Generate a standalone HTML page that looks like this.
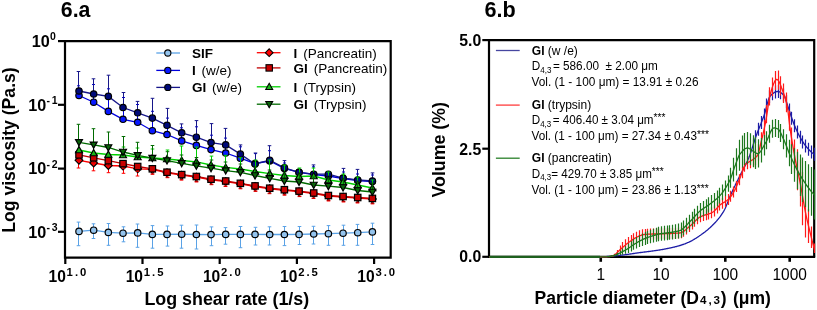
<!DOCTYPE html><html><head><meta charset="utf-8"><style>html,body{margin:0;padding:0;background:#fff;overflow:hidden}svg{display:block;will-change:transform}</style></head><body><svg width="817" height="310" viewBox="0 0 817 310"><rect width="817" height="310" fill="#fff"/><polyline points="79.00,231.40 93.67,230.20 108.34,232.40 123.01,233.20 137.68,232.90 152.35,234.40 167.02,234.40 181.69,234.20 196.36,234.50 211.03,234.60 225.70,234.40 240.37,234.40 255.04,234.40 269.71,234.50 284.38,234.50 299.05,234.40 313.72,234.00 328.39,233.70 343.06,233.20 357.73,232.70 372.40,231.90" fill="none" stroke="#5aa2e6" stroke-width="1.3"/>
<path d="M78.50 231.40V222.10M76.70 222.10H80.30M78.50 231.40V245.70M76.70 245.70H80.30M93.50 230.20V223.80M91.70 223.80H95.30M93.50 230.20V238.50M91.70 238.50H95.30M108.50 232.40V223.50M106.70 223.50H110.30M108.50 232.40V245.30M106.70 245.30H110.30M123.50 233.20V226.80M121.70 226.80H125.30M123.50 233.20V241.80M121.70 241.80H125.30M137.50 232.90V224.00M135.70 224.00H139.30M137.50 232.90V247.30M135.70 247.30H139.30M152.50 234.40V225.60M150.70 225.60H154.30M152.50 234.40V248.20M150.70 248.20H154.30M167.50 234.40V226.00M165.70 226.00H169.30M167.50 234.40V246.10M165.70 246.10H169.30M181.50 234.20V225.20M179.70 225.20H183.30M181.50 234.20V248.20M179.70 248.20H183.30M196.50 234.50V225.00M194.70 225.00H198.30M196.50 234.50V249.00M194.70 249.00H198.30M211.50 234.60V226.90M209.70 226.90H213.30M211.50 234.60V245.70M209.70 245.70H213.30M225.50 234.40V227.60M223.70 227.60H227.30M225.50 234.40V244.20M223.70 244.20H227.30M240.50 234.40V226.50M238.70 226.50H242.30M240.50 234.40V247.70M238.70 247.70H242.30M255.50 234.40V227.30M253.70 227.30H257.30M255.50 234.40V245.00M253.70 245.00H257.30M269.50 234.50V226.80M267.70 226.80H271.30M269.50 234.50V245.00M267.70 245.00H271.30M284.50 234.50V226.50M282.70 226.50H286.30M284.50 234.50V245.60M282.70 245.60H286.30M299.50 234.40V226.50M297.70 226.50H301.30M299.50 234.40V244.50M297.70 244.50H301.30M313.50 234.00V226.30M311.70 226.30H315.30M313.50 234.00V244.00M311.70 244.00H315.30M328.50 233.70V225.60M326.70 225.60H330.30M328.50 233.70V245.30M326.70 245.30H330.30M343.50 233.20V225.20M341.70 225.20H345.30M343.50 233.20V245.30M341.70 245.30H345.30M357.50 232.70V224.40M355.70 224.40H359.30M357.50 232.70V245.30M355.70 245.30H359.30M372.50 231.90V223.20M370.70 223.20H374.30M372.50 231.90V244.50M370.70 244.50H374.30" stroke="#5aa2e6" stroke-width="1.0" fill="none"/>
<circle cx="79.00" cy="231.40" r="3.20" fill="#94c4ee" stroke="#000" stroke-width="1.2"/><circle cx="93.67" cy="230.20" r="3.20" fill="#94c4ee" stroke="#000" stroke-width="1.2"/><circle cx="108.34" cy="232.40" r="3.20" fill="#94c4ee" stroke="#000" stroke-width="1.2"/><circle cx="123.01" cy="233.20" r="3.20" fill="#94c4ee" stroke="#000" stroke-width="1.2"/><circle cx="137.68" cy="232.90" r="3.20" fill="#94c4ee" stroke="#000" stroke-width="1.2"/><circle cx="152.35" cy="234.40" r="3.20" fill="#94c4ee" stroke="#000" stroke-width="1.2"/><circle cx="167.02" cy="234.40" r="3.20" fill="#94c4ee" stroke="#000" stroke-width="1.2"/><circle cx="181.69" cy="234.20" r="3.20" fill="#94c4ee" stroke="#000" stroke-width="1.2"/><circle cx="196.36" cy="234.50" r="3.20" fill="#94c4ee" stroke="#000" stroke-width="1.2"/><circle cx="211.03" cy="234.60" r="3.20" fill="#94c4ee" stroke="#000" stroke-width="1.2"/><circle cx="225.70" cy="234.40" r="3.20" fill="#94c4ee" stroke="#000" stroke-width="1.2"/><circle cx="240.37" cy="234.40" r="3.20" fill="#94c4ee" stroke="#000" stroke-width="1.2"/><circle cx="255.04" cy="234.40" r="3.20" fill="#94c4ee" stroke="#000" stroke-width="1.2"/><circle cx="269.71" cy="234.50" r="3.20" fill="#94c4ee" stroke="#000" stroke-width="1.2"/><circle cx="284.38" cy="234.50" r="3.20" fill="#94c4ee" stroke="#000" stroke-width="1.2"/><circle cx="299.05" cy="234.40" r="3.20" fill="#94c4ee" stroke="#000" stroke-width="1.2"/><circle cx="313.72" cy="234.00" r="3.20" fill="#94c4ee" stroke="#000" stroke-width="1.2"/><circle cx="328.39" cy="233.70" r="3.20" fill="#94c4ee" stroke="#000" stroke-width="1.2"/><circle cx="343.06" cy="233.20" r="3.20" fill="#94c4ee" stroke="#000" stroke-width="1.2"/><circle cx="357.73" cy="232.70" r="3.20" fill="#94c4ee" stroke="#000" stroke-width="1.2"/><circle cx="372.40" cy="231.90" r="3.20" fill="#94c4ee" stroke="#000" stroke-width="1.2"/>
<polyline points="79.00,95.50 93.67,102.20 108.34,111.40 123.01,119.30 137.68,122.30 152.35,130.70 167.02,134.50 181.69,140.90 196.36,145.40 211.03,149.60 225.70,153.00 240.37,158.20 255.04,163.50 269.71,161.00 284.38,168.40 299.05,172.30 313.72,174.50 328.39,176.00 343.06,178.50 357.73,180.50 372.40,181.50" fill="none" stroke="#0000dd" stroke-width="1.3"/>
<path d="M78.50 95.50V85.80M77.00 85.80H80.00M93.50 102.20V84.50M92.00 84.50H95.00M108.50 111.40V88.80M107.00 88.80H110.00M123.50 119.30V97.50M122.00 97.50H125.00M137.50 122.30V104.50M136.00 104.50H139.00M152.50 130.70V111.30M151.00 111.30H154.00M167.50 134.50V118.10M166.00 118.10H169.00M181.50 140.90V127.80M180.00 127.80H183.00M196.50 145.40V126.80M195.00 126.80H198.00M211.50 149.60V135.20M210.00 135.20H213.00M225.50 153.00V138.10M224.00 138.10H227.00M240.50 158.20V146.80M239.00 146.80H242.00M255.50 163.50V153.60M254.00 153.60H257.00M269.50 161.00V150.70M268.00 150.70H271.00M284.50 168.40V163.00M283.00 163.00H286.00M299.50 172.30V169.70M298.00 169.70H301.00M313.50 174.50V166.80M312.00 166.80H315.00M328.50 176.00V171.70M327.00 171.70H330.00M343.50 178.50V172.00M342.00 172.00H345.00M357.50 180.50V174.00M356.00 174.00H359.00M372.50 181.50V175.00M371.00 175.00H374.00" stroke="#0000dd" stroke-width="1.0" fill="none"/>
<circle cx="79.00" cy="95.50" r="3.20" fill="#0818ff" stroke="#000" stroke-width="1.2"/><circle cx="93.67" cy="102.20" r="3.20" fill="#0818ff" stroke="#000" stroke-width="1.2"/><circle cx="108.34" cy="111.40" r="3.20" fill="#0818ff" stroke="#000" stroke-width="1.2"/><circle cx="123.01" cy="119.30" r="3.20" fill="#0818ff" stroke="#000" stroke-width="1.2"/><circle cx="137.68" cy="122.30" r="3.20" fill="#0818ff" stroke="#000" stroke-width="1.2"/><circle cx="152.35" cy="130.70" r="3.20" fill="#0818ff" stroke="#000" stroke-width="1.2"/><circle cx="167.02" cy="134.50" r="3.20" fill="#0818ff" stroke="#000" stroke-width="1.2"/><circle cx="181.69" cy="140.90" r="3.20" fill="#0818ff" stroke="#000" stroke-width="1.2"/><circle cx="196.36" cy="145.40" r="3.20" fill="#0818ff" stroke="#000" stroke-width="1.2"/><circle cx="211.03" cy="149.60" r="3.20" fill="#0818ff" stroke="#000" stroke-width="1.2"/><circle cx="225.70" cy="153.00" r="3.20" fill="#0818ff" stroke="#000" stroke-width="1.2"/><circle cx="240.37" cy="158.20" r="3.20" fill="#0818ff" stroke="#000" stroke-width="1.2"/><circle cx="255.04" cy="163.50" r="3.20" fill="#0818ff" stroke="#000" stroke-width="1.2"/><circle cx="269.71" cy="161.00" r="3.20" fill="#0818ff" stroke="#000" stroke-width="1.2"/><circle cx="284.38" cy="168.40" r="3.20" fill="#0818ff" stroke="#000" stroke-width="1.2"/><circle cx="299.05" cy="172.30" r="3.20" fill="#0818ff" stroke="#000" stroke-width="1.2"/><circle cx="313.72" cy="174.50" r="3.20" fill="#0818ff" stroke="#000" stroke-width="1.2"/><circle cx="328.39" cy="176.00" r="3.20" fill="#0818ff" stroke="#000" stroke-width="1.2"/><circle cx="343.06" cy="178.50" r="3.20" fill="#0818ff" stroke="#000" stroke-width="1.2"/><circle cx="357.73" cy="180.50" r="3.20" fill="#0818ff" stroke="#000" stroke-width="1.2"/><circle cx="372.40" cy="181.50" r="3.20" fill="#0818ff" stroke="#000" stroke-width="1.2"/>
<polyline points="79.00,91.00 93.67,94.00 108.34,96.40 123.01,107.50 137.68,112.80 152.35,118.10 167.02,125.30 181.69,132.80 196.36,137.20 211.03,142.60 225.70,144.90 240.37,154.10 255.04,164.00 269.71,160.20 284.38,167.80 299.05,172.40 313.72,174.20 328.39,174.20 343.06,178.10 357.73,180.00 372.40,181.00" fill="none" stroke="#16168a" stroke-width="1.3"/>
<path d="M78.50 91.00V71.50M76.70 71.50H80.30M93.50 94.00V78.80M91.70 78.80H95.30M108.50 96.40V75.20M106.70 75.20H110.30M123.50 107.50V92.50M121.70 92.50H125.30M137.50 112.80V101.40M135.70 101.40H139.30M152.50 118.10V98.30M150.70 98.30H154.30M167.50 125.30V108.40M165.70 108.40H169.30M181.50 132.80V123.90M179.70 123.90H183.30M196.50 137.20V120.60M194.70 120.60H198.30M211.50 142.60V123.60M209.70 123.60H213.30M225.50 144.90V128.40M223.70 128.40H227.30M240.50 154.10V144.90M238.70 144.90H242.30M255.50 164.00V153.00M253.70 153.00H257.30M269.50 160.20V145.70M267.70 145.70H271.30M284.50 167.80V160.60M282.70 160.60H286.30M299.50 172.40V171.00M297.70 171.00H301.30M313.50 174.20V164.90M311.70 164.90H315.30M328.50 174.20V173.00M326.70 173.00H330.30M343.50 178.10V168.40M341.70 168.40H345.30M357.50 180.00V169.40M355.70 169.40H359.30M372.50 181.00V172.90M370.70 172.90H374.30" stroke="#16168a" stroke-width="1.0" fill="none"/>
<circle cx="79.00" cy="91.00" r="3.20" fill="#000a7a" stroke="#000" stroke-width="1.2"/><circle cx="93.67" cy="94.00" r="3.20" fill="#000a7a" stroke="#000" stroke-width="1.2"/><circle cx="108.34" cy="96.40" r="3.20" fill="#000a7a" stroke="#000" stroke-width="1.2"/><circle cx="123.01" cy="107.50" r="3.20" fill="#000a7a" stroke="#000" stroke-width="1.2"/><circle cx="137.68" cy="112.80" r="3.20" fill="#000a7a" stroke="#000" stroke-width="1.2"/><circle cx="152.35" cy="118.10" r="3.20" fill="#000a7a" stroke="#000" stroke-width="1.2"/><circle cx="167.02" cy="125.30" r="3.20" fill="#000a7a" stroke="#000" stroke-width="1.2"/><circle cx="181.69" cy="132.80" r="3.20" fill="#000a7a" stroke="#000" stroke-width="1.2"/><circle cx="196.36" cy="137.20" r="3.20" fill="#000a7a" stroke="#000" stroke-width="1.2"/><circle cx="211.03" cy="142.60" r="3.20" fill="#000a7a" stroke="#000" stroke-width="1.2"/><circle cx="225.70" cy="144.90" r="3.20" fill="#000a7a" stroke="#000" stroke-width="1.2"/><circle cx="240.37" cy="154.10" r="3.20" fill="#000a7a" stroke="#000" stroke-width="1.2"/><circle cx="255.04" cy="164.00" r="3.20" fill="#000a7a" stroke="#000" stroke-width="1.2"/><circle cx="269.71" cy="160.20" r="3.20" fill="#000a7a" stroke="#000" stroke-width="1.2"/><circle cx="284.38" cy="167.80" r="3.20" fill="#000a7a" stroke="#000" stroke-width="1.2"/><circle cx="299.05" cy="172.40" r="3.20" fill="#000a7a" stroke="#000" stroke-width="1.2"/><circle cx="313.72" cy="174.20" r="3.20" fill="#000a7a" stroke="#000" stroke-width="1.2"/><circle cx="328.39" cy="174.20" r="3.20" fill="#000a7a" stroke="#000" stroke-width="1.2"/><circle cx="343.06" cy="178.10" r="3.20" fill="#000a7a" stroke="#000" stroke-width="1.2"/><circle cx="357.73" cy="180.00" r="3.20" fill="#000a7a" stroke="#000" stroke-width="1.2"/><circle cx="372.40" cy="181.00" r="3.20" fill="#000a7a" stroke="#000" stroke-width="1.2"/>
<polyline points="79.00,160.30 93.67,163.00 108.34,165.50 123.01,166.00 137.68,168.80 152.35,169.40 167.02,172.80 181.69,175.20 196.36,177.10 211.03,179.80 225.70,181.60 240.37,183.90 255.04,186.50 269.71,188.80 284.38,190.30 299.05,191.70 313.72,193.60 328.39,196.10 343.06,197.10 357.73,198.10 372.40,199.00" fill="none" stroke="#ff0000" stroke-width="1.3"/>
<path d="M78.50 160.30V168.00M76.70 168.00H80.30M93.50 163.00V170.80M91.70 170.80H95.30M108.50 165.50V172.70M106.70 172.70H110.30M123.50 166.00V173.30M121.70 173.30H125.30M137.50 168.80V176.00M135.70 176.00H139.30M152.50 169.40V174.30M150.70 174.30H154.30M167.50 172.80V177.70M165.70 177.70H169.30M181.50 175.20V180.10M179.70 180.10H183.30M196.50 177.10V182.00M194.70 182.00H198.30M211.50 179.80V184.70M209.70 184.70H213.30M225.50 181.60V186.50M223.70 186.50H227.30M240.50 183.90V188.80M238.70 188.80H242.30M255.50 186.50V191.40M253.70 191.40H257.30M269.50 188.80V193.70M267.70 193.70H271.30M284.50 190.30V195.20M282.70 195.20H286.30M299.50 191.70V196.60M297.70 196.60H301.30M313.50 193.60V198.50M311.70 198.50H315.30M328.50 196.10V201.00M326.70 201.00H330.30M343.50 197.10V202.00M341.70 202.00H345.30M357.50 198.10V203.00M355.70 203.00H359.30M372.50 199.00V203.90M370.70 203.90H374.30" stroke="#ff0000" stroke-width="1.0" fill="none"/>
<path d="M79.00 156.46L82.84 160.30L79.00 164.14L75.16 160.30Z" fill="#ff0000" stroke="#000" stroke-width="1.2"/><path d="M93.67 159.16L97.51 163.00L93.67 166.84L89.83 163.00Z" fill="#ff0000" stroke="#000" stroke-width="1.2"/><path d="M108.34 161.66L112.18 165.50L108.34 169.34L104.50 165.50Z" fill="#ff0000" stroke="#000" stroke-width="1.2"/><path d="M123.01 162.16L126.85 166.00L123.01 169.84L119.17 166.00Z" fill="#ff0000" stroke="#000" stroke-width="1.2"/><path d="M137.68 164.96L141.52 168.80L137.68 172.64L133.84 168.80Z" fill="#ff0000" stroke="#000" stroke-width="1.2"/><path d="M152.35 165.56L156.19 169.40L152.35 173.24L148.51 169.40Z" fill="#ff0000" stroke="#000" stroke-width="1.2"/><path d="M167.02 168.96L170.86 172.80L167.02 176.64L163.18 172.80Z" fill="#ff0000" stroke="#000" stroke-width="1.2"/><path d="M181.69 171.36L185.53 175.20L181.69 179.04L177.85 175.20Z" fill="#ff0000" stroke="#000" stroke-width="1.2"/><path d="M196.36 173.26L200.20 177.10L196.36 180.94L192.52 177.10Z" fill="#ff0000" stroke="#000" stroke-width="1.2"/><path d="M211.03 175.96L214.87 179.80L211.03 183.64L207.19 179.80Z" fill="#ff0000" stroke="#000" stroke-width="1.2"/><path d="M225.70 177.76L229.54 181.60L225.70 185.44L221.86 181.60Z" fill="#ff0000" stroke="#000" stroke-width="1.2"/><path d="M240.37 180.06L244.21 183.90L240.37 187.74L236.53 183.90Z" fill="#ff0000" stroke="#000" stroke-width="1.2"/><path d="M255.04 182.66L258.88 186.50L255.04 190.34L251.20 186.50Z" fill="#ff0000" stroke="#000" stroke-width="1.2"/><path d="M269.71 184.96L273.55 188.80L269.71 192.64L265.87 188.80Z" fill="#ff0000" stroke="#000" stroke-width="1.2"/><path d="M284.38 186.46L288.22 190.30L284.38 194.14L280.54 190.30Z" fill="#ff0000" stroke="#000" stroke-width="1.2"/><path d="M299.05 187.86L302.89 191.70L299.05 195.54L295.21 191.70Z" fill="#ff0000" stroke="#000" stroke-width="1.2"/><path d="M313.72 189.76L317.56 193.60L313.72 197.44L309.88 193.60Z" fill="#ff0000" stroke="#000" stroke-width="1.2"/><path d="M328.39 192.26L332.23 196.10L328.39 199.94L324.55 196.10Z" fill="#ff0000" stroke="#000" stroke-width="1.2"/><path d="M343.06 193.26L346.90 197.10L343.06 200.94L339.22 197.10Z" fill="#ff0000" stroke="#000" stroke-width="1.2"/><path d="M357.73 194.26L361.57 198.10L357.73 201.94L353.89 198.10Z" fill="#ff0000" stroke="#000" stroke-width="1.2"/><path d="M372.40 195.16L376.24 199.00L372.40 202.84L368.56 199.00Z" fill="#ff0000" stroke="#000" stroke-width="1.2"/>
<polyline points="79.00,154.90 93.67,157.80 108.34,160.70 123.01,163.60 137.68,166.50 152.35,168.80 167.02,172.20 181.69,174.60 196.36,176.50 211.03,179.20 225.70,181.00 240.37,183.30 255.04,185.90 269.71,188.20 284.38,189.70 299.05,191.10 313.72,193.00 328.39,195.50 343.06,196.50 357.73,197.50 372.40,198.40" fill="none" stroke="#c00000" stroke-width="1.3"/>
<path d="M78.50 154.90V159.90M76.70 159.90H80.30M93.50 157.80V162.80M91.70 162.80H95.30M108.50 160.70V165.70M106.70 165.70H110.30M123.50 163.60V168.60M121.70 168.60H125.30M137.50 166.50V171.50M135.70 171.50H139.30M152.50 168.80V173.80M150.70 173.80H154.30M167.50 172.20V177.20M165.70 177.20H169.30M181.50 174.60V179.60M179.70 179.60H183.30M196.50 176.50V181.50M194.70 181.50H198.30M211.50 179.20V184.20M209.70 184.20H213.30M225.50 181.00V186.00M223.70 186.00H227.30M240.50 183.30V188.30M238.70 188.30H242.30M255.50 185.90V190.90M253.70 190.90H257.30M269.50 188.20V193.20M267.70 193.20H271.30M284.50 189.70V194.70M282.70 194.70H286.30M299.50 191.10V196.10M297.70 196.10H301.30M313.50 193.00V198.00M311.70 198.00H315.30M328.50 195.50V200.50M326.70 200.50H330.30M343.50 196.50V201.50M341.70 201.50H345.30M357.50 197.50V202.50M355.70 202.50H359.30M372.50 198.40V203.40M370.70 203.40H374.30" stroke="#c00000" stroke-width="1.0" fill="none"/>
<rect x="75.80" y="151.70" width="6.40" height="6.40" fill="#c80000" stroke="#000" stroke-width="1.2"/><rect x="90.47" y="154.60" width="6.40" height="6.40" fill="#c80000" stroke="#000" stroke-width="1.2"/><rect x="105.14" y="157.50" width="6.40" height="6.40" fill="#c80000" stroke="#000" stroke-width="1.2"/><rect x="119.81" y="160.40" width="6.40" height="6.40" fill="#c80000" stroke="#000" stroke-width="1.2"/><rect x="134.48" y="163.30" width="6.40" height="6.40" fill="#c80000" stroke="#000" stroke-width="1.2"/><rect x="149.15" y="165.60" width="6.40" height="6.40" fill="#c80000" stroke="#000" stroke-width="1.2"/><rect x="163.82" y="169.00" width="6.40" height="6.40" fill="#c80000" stroke="#000" stroke-width="1.2"/><rect x="178.49" y="171.40" width="6.40" height="6.40" fill="#c80000" stroke="#000" stroke-width="1.2"/><rect x="193.16" y="173.30" width="6.40" height="6.40" fill="#c80000" stroke="#000" stroke-width="1.2"/><rect x="207.83" y="176.00" width="6.40" height="6.40" fill="#c80000" stroke="#000" stroke-width="1.2"/><rect x="222.50" y="177.80" width="6.40" height="6.40" fill="#c80000" stroke="#000" stroke-width="1.2"/><rect x="237.17" y="180.10" width="6.40" height="6.40" fill="#c80000" stroke="#000" stroke-width="1.2"/><rect x="251.84" y="182.70" width="6.40" height="6.40" fill="#c80000" stroke="#000" stroke-width="1.2"/><rect x="266.51" y="185.00" width="6.40" height="6.40" fill="#c80000" stroke="#000" stroke-width="1.2"/><rect x="281.18" y="186.50" width="6.40" height="6.40" fill="#c80000" stroke="#000" stroke-width="1.2"/><rect x="295.85" y="187.90" width="6.40" height="6.40" fill="#c80000" stroke="#000" stroke-width="1.2"/><rect x="310.52" y="189.80" width="6.40" height="6.40" fill="#c80000" stroke="#000" stroke-width="1.2"/><rect x="325.19" y="192.30" width="6.40" height="6.40" fill="#c80000" stroke="#000" stroke-width="1.2"/><rect x="339.86" y="193.30" width="6.40" height="6.40" fill="#c80000" stroke="#000" stroke-width="1.2"/><rect x="354.53" y="194.30" width="6.40" height="6.40" fill="#c80000" stroke="#000" stroke-width="1.2"/><rect x="369.20" y="195.20" width="6.40" height="6.40" fill="#c80000" stroke="#000" stroke-width="1.2"/>
<polyline points="79.00,150.00 93.67,153.00 108.34,154.50 123.01,155.00 137.68,157.00 152.35,158.00 167.02,159.00 181.69,160.50 196.36,161.80 211.03,165.00 225.70,167.40 240.37,169.00 255.04,171.50 269.71,173.60 284.38,175.50 299.05,176.50 313.72,176.00 328.39,180.00 343.06,182.00 357.73,185.00 372.40,188.00" fill="none" stroke="#00d000" stroke-width="1.3"/>
<path d="M78.50 150.00V141.00M76.70 141.00H80.30M93.50 153.00V144.00M91.70 144.00H95.30M108.50 154.50V146.00M106.70 146.00H110.30M123.50 155.00V147.00M121.70 147.00H125.30M137.50 157.00V148.00M135.70 148.00H139.30M152.50 158.00V149.00M150.70 149.00H154.30M167.50 159.00V150.00M165.70 150.00H169.30M181.50 160.50V146.00M179.70 146.00H183.30M196.50 161.80V147.00M194.70 147.00H198.30M211.50 165.00V156.10M209.70 156.10H213.30M225.50 167.40V155.30M223.70 155.30H227.30M240.50 169.00V157.70M238.70 157.70H242.30M255.50 171.50V160.00M253.70 160.00H257.30M269.50 173.60V160.00M267.70 160.00H271.30M284.50 175.50V165.00M282.70 165.00H286.30M299.50 176.50V168.00M297.70 168.00H301.30M313.50 176.00V168.00M311.70 168.00H315.30M328.50 180.00V172.00M326.70 172.00H330.30M343.50 182.00V174.00M341.70 174.00H345.30M357.50 185.00V177.00M355.70 177.00H359.30M372.50 188.00V180.00M370.70 180.00H374.30" stroke="#00d000" stroke-width="1.0" fill="none"/>
<path d="M79.00 146.54L82.46 152.76L75.54 152.76Z" fill="#18b418" stroke="#000" stroke-width="1.2"/><path d="M93.67 149.54L97.13 155.76L90.21 155.76Z" fill="#18b418" stroke="#000" stroke-width="1.2"/><path d="M108.34 151.04L111.80 157.26L104.88 157.26Z" fill="#18b418" stroke="#000" stroke-width="1.2"/><path d="M123.01 151.54L126.47 157.76L119.55 157.76Z" fill="#18b418" stroke="#000" stroke-width="1.2"/><path d="M137.68 153.54L141.14 159.76L134.22 159.76Z" fill="#18b418" stroke="#000" stroke-width="1.2"/><path d="M152.35 154.54L155.81 160.76L148.89 160.76Z" fill="#18b418" stroke="#000" stroke-width="1.2"/><path d="M167.02 155.54L170.48 161.76L163.56 161.76Z" fill="#18b418" stroke="#000" stroke-width="1.2"/><path d="M181.69 157.04L185.15 163.26L178.23 163.26Z" fill="#18b418" stroke="#000" stroke-width="1.2"/><path d="M196.36 158.34L199.82 164.56L192.90 164.56Z" fill="#18b418" stroke="#000" stroke-width="1.2"/><path d="M211.03 161.54L214.49 167.76L207.57 167.76Z" fill="#18b418" stroke="#000" stroke-width="1.2"/><path d="M225.70 163.94L229.16 170.16L222.24 170.16Z" fill="#18b418" stroke="#000" stroke-width="1.2"/><path d="M240.37 165.54L243.83 171.76L236.91 171.76Z" fill="#18b418" stroke="#000" stroke-width="1.2"/><path d="M255.04 168.04L258.50 174.26L251.58 174.26Z" fill="#18b418" stroke="#000" stroke-width="1.2"/><path d="M269.71 170.14L273.17 176.36L266.25 176.36Z" fill="#18b418" stroke="#000" stroke-width="1.2"/><path d="M284.38 172.04L287.84 178.26L280.92 178.26Z" fill="#18b418" stroke="#000" stroke-width="1.2"/><path d="M299.05 173.04L302.51 179.26L295.59 179.26Z" fill="#18b418" stroke="#000" stroke-width="1.2"/><path d="M313.72 172.54L317.18 178.76L310.26 178.76Z" fill="#18b418" stroke="#000" stroke-width="1.2"/><path d="M328.39 176.54L331.85 182.76L324.93 182.76Z" fill="#18b418" stroke="#000" stroke-width="1.2"/><path d="M343.06 178.54L346.52 184.76L339.60 184.76Z" fill="#18b418" stroke="#000" stroke-width="1.2"/><path d="M357.73 181.54L361.19 187.76L354.27 187.76Z" fill="#18b418" stroke="#000" stroke-width="1.2"/><path d="M372.40 184.54L375.86 190.76L368.94 190.76Z" fill="#18b418" stroke="#000" stroke-width="1.2"/>
<polyline points="79.00,142.30 93.67,144.80 108.34,147.50 123.01,152.00 137.68,155.30 152.35,158.10 167.02,160.60 181.69,163.30 196.36,165.80 211.03,168.20 225.70,170.60 240.37,172.30 255.04,175.50 269.71,178.40 284.38,181.00 299.05,182.00 313.72,185.00 328.39,186.20 343.06,187.50 357.73,190.50 372.40,192.00" fill="none" stroke="#006a00" stroke-width="1.3"/>
<path d="M78.50 142.30V124.30M76.70 124.30H80.30M93.50 144.80V128.70M91.70 128.70H95.30M108.50 147.50V132.00M106.70 132.00H110.30M123.50 152.00V136.50M121.70 136.50H125.30M137.50 155.30V142.30M135.70 142.30H139.30M152.50 158.10V145.50M150.70 145.50H154.30M167.50 160.60V151.70M165.70 151.70H169.30M181.50 163.30V155.00M179.70 155.00H183.30M196.50 165.80V157.50M194.70 157.50H198.30M211.50 168.20V160.00M209.70 160.00H213.30M225.50 170.60V162.00M223.70 162.00H227.30M240.50 172.30V164.00M238.70 164.00H242.30M255.50 175.50V167.00M253.70 167.00H257.30M269.50 178.40V170.00M267.70 170.00H271.30M284.50 181.00V173.00M282.70 173.00H286.30M299.50 182.00V174.00M297.70 174.00H301.30M313.50 185.00V177.00M311.70 177.00H315.30M328.50 186.20V178.00M326.70 178.00H330.30M343.50 187.50V179.00M341.70 179.00H345.30M357.50 190.50V182.00M355.70 182.00H359.30M372.50 192.00V183.00M370.70 183.00H374.30" stroke="#006a00" stroke-width="1.0" fill="none"/>
<path d="M79.00 145.76L82.46 139.54L75.54 139.54Z" fill="#0a640a" stroke="#000" stroke-width="1.2"/><path d="M93.67 148.26L97.13 142.04L90.21 142.04Z" fill="#0a640a" stroke="#000" stroke-width="1.2"/><path d="M108.34 150.96L111.80 144.74L104.88 144.74Z" fill="#0a640a" stroke="#000" stroke-width="1.2"/><path d="M123.01 155.46L126.47 149.24L119.55 149.24Z" fill="#0a640a" stroke="#000" stroke-width="1.2"/><path d="M137.68 158.76L141.14 152.54L134.22 152.54Z" fill="#0a640a" stroke="#000" stroke-width="1.2"/><path d="M152.35 161.56L155.81 155.34L148.89 155.34Z" fill="#0a640a" stroke="#000" stroke-width="1.2"/><path d="M167.02 164.06L170.48 157.84L163.56 157.84Z" fill="#0a640a" stroke="#000" stroke-width="1.2"/><path d="M181.69 166.76L185.15 160.54L178.23 160.54Z" fill="#0a640a" stroke="#000" stroke-width="1.2"/><path d="M196.36 169.26L199.82 163.04L192.90 163.04Z" fill="#0a640a" stroke="#000" stroke-width="1.2"/><path d="M211.03 171.66L214.49 165.44L207.57 165.44Z" fill="#0a640a" stroke="#000" stroke-width="1.2"/><path d="M225.70 174.06L229.16 167.84L222.24 167.84Z" fill="#0a640a" stroke="#000" stroke-width="1.2"/><path d="M240.37 175.76L243.83 169.54L236.91 169.54Z" fill="#0a640a" stroke="#000" stroke-width="1.2"/><path d="M255.04 178.96L258.50 172.74L251.58 172.74Z" fill="#0a640a" stroke="#000" stroke-width="1.2"/><path d="M269.71 181.86L273.17 175.64L266.25 175.64Z" fill="#0a640a" stroke="#000" stroke-width="1.2"/><path d="M284.38 184.46L287.84 178.24L280.92 178.24Z" fill="#0a640a" stroke="#000" stroke-width="1.2"/><path d="M299.05 185.46L302.51 179.24L295.59 179.24Z" fill="#0a640a" stroke="#000" stroke-width="1.2"/><path d="M313.72 188.46L317.18 182.24L310.26 182.24Z" fill="#0a640a" stroke="#000" stroke-width="1.2"/><path d="M328.39 189.66L331.85 183.44L324.93 183.44Z" fill="#0a640a" stroke="#000" stroke-width="1.2"/><path d="M343.06 190.96L346.52 184.74L339.60 184.74Z" fill="#0a640a" stroke="#000" stroke-width="1.2"/><path d="M357.73 193.96L361.19 187.74L354.27 187.74Z" fill="#0a640a" stroke="#000" stroke-width="1.2"/><path d="M372.40 195.46L375.86 189.24L368.94 189.24Z" fill="#0a640a" stroke="#000" stroke-width="1.2"/>
<path d="M65 41.1H390.7V257.6H65Z" fill="none" stroke="#000" stroke-width="2.2"/>
<path d="M58 41.1H65" stroke="#000" stroke-width="2.2"/>
<path d="M58 104.8H65" stroke="#000" stroke-width="2.2"/>
<path d="M58 168.6H65" stroke="#000" stroke-width="2.2"/>
<path d="M58 231.8H65" stroke="#000" stroke-width="2.2"/>
<path d="M65.30 257.6V264" stroke="#000" stroke-width="2.2"/>
<path d="M142.50 257.6V264" stroke="#000" stroke-width="2.2"/>
<path d="M219.70 257.6V264" stroke="#000" stroke-width="2.2"/>
<path d="M296.90 257.6V264" stroke="#000" stroke-width="2.2"/>
<path d="M374.10 257.6V264" stroke="#000" stroke-width="2.2"/>
<text transform="translate(31.7 46.80) scale(1 1.06)" font-family="Liberation Sans, sans-serif" font-size="16.2" font-weight="bold">10</text>
<text x="50.0" y="40.10" font-family="Liberation Sans, sans-serif" font-size="10.5" font-weight="bold" letter-spacing="0">0</text>
<text transform="translate(28.3 110.50) scale(1 1.06)" font-family="Liberation Sans, sans-serif" font-size="16.2" font-weight="bold">10</text>
<text x="46.6" y="103.80" font-family="Liberation Sans, sans-serif" font-size="10.5" font-weight="bold" letter-spacing="1.6">-1</text>
<text transform="translate(28.3 174.30) scale(1 1.06)" font-family="Liberation Sans, sans-serif" font-size="16.2" font-weight="bold">10</text>
<text x="46.6" y="167.60" font-family="Liberation Sans, sans-serif" font-size="10.5" font-weight="bold" letter-spacing="1.6">-2</text>
<text transform="translate(28.3 237.50) scale(1 1.06)" font-family="Liberation Sans, sans-serif" font-size="16.2" font-weight="bold">10</text>
<text x="46.6" y="230.80" font-family="Liberation Sans, sans-serif" font-size="10.5" font-weight="bold" letter-spacing="1.6">-3</text>
<text transform="translate(48.50 281.7) scale(1 1.0)" font-family="Liberation Sans, sans-serif" font-size="15.6" font-weight="bold">10</text>
<text x="66.60" y="275.6" font-family="Liberation Sans, sans-serif" font-size="11.3" font-weight="bold" letter-spacing="2">1.0</text>
<text transform="translate(125.70 281.7) scale(1 1.0)" font-family="Liberation Sans, sans-serif" font-size="15.6" font-weight="bold">10</text>
<text x="143.80" y="275.6" font-family="Liberation Sans, sans-serif" font-size="11.3" font-weight="bold" letter-spacing="2">1.5</text>
<text transform="translate(202.90 281.7) scale(1 1.0)" font-family="Liberation Sans, sans-serif" font-size="15.6" font-weight="bold">10</text>
<text x="221.00" y="275.6" font-family="Liberation Sans, sans-serif" font-size="11.3" font-weight="bold" letter-spacing="2">2.0</text>
<text transform="translate(280.10 281.7) scale(1 1.0)" font-family="Liberation Sans, sans-serif" font-size="15.6" font-weight="bold">10</text>
<text x="298.20" y="275.6" font-family="Liberation Sans, sans-serif" font-size="11.3" font-weight="bold" letter-spacing="2">2.5</text>
<text transform="translate(357.30 281.7) scale(1 1.0)" font-family="Liberation Sans, sans-serif" font-size="15.6" font-weight="bold">10</text>
<text x="375.40" y="275.6" font-family="Liberation Sans, sans-serif" font-size="11.3" font-weight="bold" letter-spacing="2">3.0</text>
<text x="60.8" y="16.8" font-family="Liberation Sans, sans-serif" font-size="22.5" font-weight="bold" textLength="29.6" lengthAdjust="spacingAndGlyphs">6.a</text>
<text x="144.4" y="305.2" font-family="Liberation Sans, sans-serif" font-size="18" font-weight="bold" textLength="164.8" lengthAdjust="spacingAndGlyphs">Log shear rate (1/s)</text>
<text transform="translate(14.5 232.8) rotate(-90)" font-family="Liberation Sans, sans-serif" font-size="17.5" font-weight="bold" textLength="165.5" lengthAdjust="spacingAndGlyphs">Log viscosity (Pa.s)</text>
<path d="M156.3 53H180" stroke="#5aa2e6" stroke-width="1.3"/>
<circle cx="167.80" cy="53.00" r="3.10" fill="#94c4ee" stroke="#000" stroke-width="1.1"/>
<text x="192" y="57.8" font-family="Liberation Sans, sans-serif" font-size="13.5"><tspan font-weight="bold">SIF</tspan><tspan dx="0"></tspan></text>
<path d="M156.3 70.4H180" stroke="#0000dd" stroke-width="1.3"/>
<circle cx="167.80" cy="70.40" r="3.10" fill="#0818ff" stroke="#000" stroke-width="1.1"/>
<text x="192" y="75.2" font-family="Liberation Sans, sans-serif" font-size="13.5"><tspan font-weight="bold">I</tspan><tspan dx="2"> (w/e)</tspan></text>
<path d="M156.3 87.4H180" stroke="#16168a" stroke-width="1.3"/>
<circle cx="167.80" cy="87.40" r="3.10" fill="#000a7a" stroke="#000" stroke-width="1.1"/>
<text x="192" y="92.2" font-family="Liberation Sans, sans-serif" font-size="13.5"><tspan font-weight="bold">GI</tspan><tspan dx="2"> (w/e)</tspan></text>
<path d="M256.8 52.7H280.5" stroke="#ff0000" stroke-width="1.3"/>
<path d="M269.20 48.86L273.04 52.70L269.20 56.54L265.36 52.70Z" fill="#ff0000" stroke="#000" stroke-width="1.1"/>
<text x="293.5" y="57.5" font-family="Liberation Sans, sans-serif" font-size="13.5"><tspan font-weight="bold">I</tspan><tspan dx="2.2"> (Pancreatin)</tspan></text>
<path d="M256.8 67.9H280.5" stroke="#c00000" stroke-width="1.3"/>
<rect x="266.00" y="64.70" width="6.40" height="6.40" fill="#c80000" stroke="#000" stroke-width="1.1"/>
<text x="293.5" y="72.7" font-family="Liberation Sans, sans-serif" font-size="13.5"><tspan font-weight="bold">GI</tspan><tspan dx="2.2"> (Pancreatin)</tspan></text>
<path d="M256.8 86.8H280.5" stroke="#00d000" stroke-width="1.3"/>
<path d="M269.20 83.34L272.66 89.56L265.74 89.56Z" fill="#18b418" stroke="#000" stroke-width="1.1"/>
<text x="293.5" y="91.6" font-family="Liberation Sans, sans-serif" font-size="13.5"><tspan font-weight="bold">I</tspan><tspan dx="2.2"> (Trypsin)</tspan></text>
<path d="M256.8 104.2H280.5" stroke="#006a00" stroke-width="1.3"/>
<path d="M269.20 107.66L272.66 101.44L265.74 101.44Z" fill="#0a640a" stroke="#000" stroke-width="1.1"/>
<text x="293.5" y="109.0" font-family="Liberation Sans, sans-serif" font-size="13.5"><tspan font-weight="bold">GI</tspan><tspan dx="2.2"> (Trypsin)</tspan></text>
<path d="M489 40.1H814.2V256.8" fill="none" stroke="#000" stroke-width="2.2"/>
<path d="M489 39.0V256.8H815.2" fill="none" stroke="#000" stroke-width="2.2"/>
<path d="M482.3 40.1H489" stroke="#000" stroke-width="2.2"/>
<path d="M482.3 148.7H489" stroke="#000" stroke-width="2.2"/>
<path d="M482.3 256.8H489" stroke="#000" stroke-width="2.2"/>
<path d="M600.75 256.8V261.8" stroke="#000" stroke-width="2.6"/>
<path d="M661.0 256.8V261.8" stroke="#000" stroke-width="2.6"/>
<path d="M725.3 256.8V261.8" stroke="#000" stroke-width="2.6"/>
<path d="M789.7 256.8V261.8" stroke="#000" stroke-width="2.6"/>
<polyline points="489.0,256.8 489.5,256.8 490.0,256.8 490.5,256.8 491.0,256.8 491.5,256.8 492.0,256.8 492.5,256.8 493.0,256.8 493.5,256.8 494.0,256.8 494.5,256.8 495.0,256.8 495.5,256.8 496.0,256.8 496.5,256.8 497.0,256.8 497.5,256.8 498.0,256.8 498.5,256.8 499.0,256.8 499.5,256.8 500.0,256.8 500.5,256.8 501.0,256.8 501.5,256.8 502.0,256.8 502.5,256.8 503.0,256.8 503.5,256.8 504.0,256.8 504.5,256.8 505.0,256.8 505.5,256.8 506.0,256.8 506.5,256.8 507.0,256.8 507.5,256.8 508.0,256.8 508.5,256.8 509.0,256.8 509.5,256.8 510.0,256.8 510.5,256.8 511.0,256.8 511.5,256.8 512.0,256.8 512.5,256.8 513.0,256.8 513.5,256.8 514.0,256.8 514.5,256.8 515.0,256.8 515.5,256.8 516.0,256.8 516.5,256.8 517.0,256.8 517.5,256.8 518.0,256.8 518.5,256.8 519.0,256.8 519.5,256.8 520.0,256.8 520.5,256.8 521.0,256.8 521.5,256.8 522.0,256.8 522.5,256.8 523.0,256.8 523.5,256.8 524.0,256.8 524.5,256.8 525.0,256.8 525.5,256.8 526.0,256.8 526.5,256.8 527.0,256.8 527.5,256.8 528.0,256.8 528.5,256.8 529.0,256.8 529.5,256.8 530.0,256.8 530.5,256.8 531.0,256.8 531.5,256.8 532.0,256.8 532.5,256.8 533.0,256.8 533.5,256.8 534.0,256.8 534.5,256.8 535.0,256.8 535.5,256.8 536.0,256.8 536.5,256.8 537.0,256.8 537.5,256.8 538.0,256.8 538.5,256.8 539.0,256.8 539.5,256.8 540.0,256.8 540.5,256.8 541.0,256.8 541.5,256.8 542.0,256.8 542.5,256.8 543.0,256.8 543.5,256.8 544.0,256.8 544.5,256.8 545.0,256.8 545.5,256.8 546.0,256.8 546.5,256.8 547.0,256.8 547.5,256.8 548.0,256.8 548.5,256.8 549.0,256.8 549.5,256.8 550.0,256.8 550.5,256.8 551.0,256.8 551.5,256.8 552.0,256.8 552.5,256.8 553.0,256.8 553.5,256.8 554.0,256.8 554.5,256.8 555.0,256.8 555.5,256.8 556.0,256.8 556.5,256.8 557.0,256.8 557.5,256.8 558.0,256.8 558.5,256.8 559.0,256.8 559.5,256.8 560.0,256.8 560.5,256.8 561.0,256.8 561.5,256.8 562.0,256.8 562.5,256.8 563.0,256.8 563.5,256.8 564.0,256.8 564.5,256.8 565.0,256.8 565.5,256.8 566.0,256.8 566.5,256.8 567.0,256.8 567.5,256.8 568.0,256.8 568.5,256.8 569.0,256.8 569.5,256.8 570.0,256.8 570.5,256.8 571.0,256.8 571.5,256.8 572.0,256.8 572.5,256.8 573.0,256.8 573.5,256.8 574.0,256.8 574.5,256.8 575.0,256.8 575.5,256.8 576.0,256.8 576.5,256.8 577.0,256.8 577.5,256.8 578.0,256.8 578.5,256.8 579.0,256.8 579.5,256.8 580.0,256.8 580.5,256.8 581.0,256.8 581.5,256.8 582.0,256.8 582.5,256.8 583.0,256.8 583.5,256.8 584.0,256.8 584.5,256.8 585.0,256.8 585.5,256.8 586.0,256.8 586.5,256.8 587.0,256.8 587.5,256.8 588.0,256.8 588.5,256.8 589.0,256.8 589.5,256.8 590.0,256.8 590.5,256.8 591.0,256.8 591.5,256.8 592.0,256.8 592.5,256.8 593.0,256.8 593.5,256.8 594.0,256.8 594.5,256.8 595.0,256.8 595.5,256.8 596.0,256.8 596.5,256.8 597.0,256.8 597.5,256.8 598.0,256.8 598.5,256.8 599.0,256.8 599.5,256.8 600.0,256.8 600.5,256.8 601.0,256.8 601.5,256.8 602.0,256.8 602.5,256.8 603.0,256.7 603.5,256.7 604.0,256.7 604.5,256.7 605.0,256.7 605.5,256.6 606.0,256.6 606.5,256.6 607.0,256.5 607.5,256.5 608.0,256.5 608.5,256.4 609.0,256.4 609.5,256.3 610.0,256.3 610.5,256.2 611.0,256.2 611.5,256.2 612.0,256.1 612.5,256.1 613.0,256.0 613.5,256.0 614.0,255.9 614.5,255.9 615.0,255.8 615.5,255.8 616.0,255.7 616.5,255.7 617.0,255.6 617.5,255.5 618.0,255.5 618.5,255.4 619.0,255.4 619.5,255.3 620.0,255.3 620.5,255.3 621.0,255.2 621.5,255.1 622.0,255.1 622.5,255.0 623.0,255.0 623.5,254.9 624.0,254.9 624.5,254.8 625.0,254.7 625.5,254.7 626.0,254.6 626.5,254.5 627.0,254.5 627.5,254.4 628.0,254.3 628.5,254.3 629.0,254.2 629.5,254.1 630.0,254.0 630.5,254.0 631.0,253.9 631.5,253.8 632.0,253.8 632.5,253.7 633.0,253.6 633.5,253.5 634.0,253.5 634.5,253.4 635.0,253.3 635.5,253.2 636.0,253.2 636.5,253.1 637.0,253.0 637.5,252.9 638.0,252.9 638.5,252.8 639.0,252.7 639.5,252.7 640.0,252.6 640.5,252.5 641.0,252.5 641.5,252.4 642.0,252.3 642.5,252.3 643.0,252.2 643.5,252.1 644.0,252.1 644.5,252.0 645.0,252.0 645.5,251.9 646.0,251.8 646.5,251.8 647.0,251.7 647.5,251.6 648.0,251.6 648.5,251.5 649.0,251.5 649.5,251.4 650.0,251.3 650.5,251.3 651.0,251.2 651.5,251.1 652.0,251.1 652.5,251.0 653.0,250.9 653.5,250.9 654.0,250.8 654.5,250.7 655.0,250.7 655.5,250.6 656.0,250.5 656.5,250.4 657.0,250.4 657.5,250.3 658.0,250.2 658.5,250.1 659.0,250.1 659.5,250.0 660.0,249.9 660.5,249.8 661.0,249.7 661.5,249.6 662.0,249.6 662.5,249.5 663.0,249.4 663.5,249.3 664.0,249.2 664.5,249.1 665.0,249.0 665.5,248.9 666.0,248.8 666.5,248.7 667.0,248.6 667.5,248.5 668.0,248.4 668.5,248.3 669.0,248.2 669.5,248.1 670.0,248.0 670.5,247.9 671.0,247.8 671.5,247.7 672.0,247.6 672.5,247.4 673.0,247.3 673.5,247.2 674.0,247.1 674.5,247.0 675.0,246.8 675.5,246.7 676.0,246.6 676.5,246.5 677.0,246.3 677.5,246.2 678.0,246.1 678.5,245.9 679.0,245.8 679.5,245.6 680.0,245.5 680.5,245.4 681.0,245.2 681.5,245.0 682.0,244.9 682.5,244.7 683.0,244.5 683.5,244.4 684.0,244.2 684.5,244.0 685.0,243.8 685.5,243.6 686.0,243.4 686.5,243.2 687.0,243.0 687.5,242.7 688.0,242.5 688.5,242.3 689.0,242.1 689.5,241.8 690.0,241.6 690.5,241.4 691.0,241.1 691.5,240.8 692.0,240.6 692.5,240.3 693.0,240.0 693.5,239.7 694.0,239.4 694.5,239.1 695.0,238.8 695.5,238.5 696.0,238.2 696.5,237.9 697.0,237.5 697.5,237.2 698.0,236.9 698.5,236.5 699.0,236.2 699.5,235.8 700.0,235.5 700.5,235.2 701.0,234.8 701.5,234.5 702.0,234.1 702.5,233.7 703.0,233.4 703.5,233.0 704.0,232.6 704.5,232.3 705.0,231.9 705.5,231.5 706.0,231.1 706.5,230.7 707.0,230.3 707.5,229.9 708.0,229.4 708.5,229.0 709.0,228.6 709.5,228.1 710.0,227.7 710.5,227.2 711.0,226.7 711.5,226.2 712.0,225.8 712.5,225.3 713.0,224.8 713.5,224.3 714.0,223.8 714.5,223.2 715.0,222.7 715.5,222.2 716.0,221.6 716.5,221.1 717.0,220.5 717.5,219.9 718.0,219.3 718.5,218.7 719.0,218.1 719.5,217.4 720.0,216.8 720.5,216.1 721.0,215.4 721.5,214.7 722.0,213.9 722.5,213.2 723.0,212.4 723.5,211.6 724.0,210.7 724.5,209.8 725.0,208.8 725.5,207.7 726.0,206.5 726.5,205.3 727.0,204.1 727.5,202.8 728.0,201.6 728.5,200.3 729.0,199.0 729.5,197.8 730.0,196.5 730.5,195.3 731.0,194.2 731.5,193.1 732.0,192.0 732.5,190.9 733.0,189.8 733.5,188.8 734.0,187.7 734.5,186.7 735.0,185.7 735.5,184.6 736.0,183.6 736.5,182.6 737.0,181.6 737.5,180.6 738.0,179.6 738.5,178.5 739.0,177.5 739.5,176.5 740.0,175.5 740.5,174.5 741.0,173.5 741.5,172.5 742.0,171.6 742.5,170.6 743.0,169.7 743.5,168.8 744.0,167.8 744.5,166.9 745.0,165.9 745.5,164.9 746.0,163.9 746.5,162.9 747.0,161.9 747.5,160.8 748.0,159.6 748.5,158.5 749.0,157.3 749.5,156.0 750.0,154.6 750.5,153.2 751.0,151.7 751.5,150.2 752.0,148.6 752.5,147.0 753.0,145.4 753.5,143.8 754.0,142.3 754.5,140.7 755.0,139.2 755.5,137.7 756.0,136.3 756.5,134.9 757.0,133.6 757.5,132.3 758.0,131.0 758.5,129.7 759.0,128.4 759.5,127.2 760.0,126.0 760.5,124.7 761.0,123.5 761.5,122.2 762.0,120.9 762.5,119.6 763.0,118.3 763.5,117.0 764.0,115.6 764.5,114.1 765.0,112.5 765.5,110.7 766.0,108.8 766.5,106.8 767.0,104.9 767.5,103.0 768.0,101.2 768.5,99.6 769.0,98.2 769.5,97.1 770.0,96.2 770.5,95.7 771.0,95.2 771.5,94.7 772.0,94.3 772.5,93.8 773.0,93.4 773.5,93.1 774.0,92.7 774.5,92.4 775.0,92.2 775.5,91.9 776.0,91.8 776.5,91.6 777.0,91.5 777.5,91.5 778.0,91.5 778.5,91.6 779.0,91.7 779.5,91.9 780.0,92.2 780.5,92.4 781.0,92.8 781.5,93.1 782.0,93.6 782.5,94.0 783.0,94.5 783.5,95.0 784.0,95.5 784.5,96.2 785.0,97.3 785.5,98.7 786.0,100.3 786.5,101.9 787.0,103.6 787.5,105.3 788.0,106.8 788.5,108.2 789.0,109.7 789.5,111.2 790.0,112.7 790.5,114.2 791.0,115.7 791.5,117.2 792.0,118.7 792.5,120.2 793.0,121.6 793.5,122.9 794.0,124.2 794.5,125.4 795.0,126.6 795.5,127.8 796.0,128.9 796.5,130.0 797.0,131.1 797.5,132.2 798.0,133.2 798.5,134.2 799.0,135.1 799.5,136.1 800.0,137.0 800.5,137.9 801.0,138.8 801.5,139.7 802.0,140.5 802.5,141.3 803.0,142.1 803.5,142.9 804.0,143.7 804.5,144.3 805.0,145.0 805.5,145.6 806.0,146.2 806.5,146.9 807.0,147.5 807.5,148.0 808.0,148.6 808.5,149.2 809.0,149.7 809.5,150.3 810.0,150.8 810.5,151.3 811.0,151.8 811.5,152.2 812.0,152.7 812.5,153.1 813.0,153.5 813.5,153.8 814.0,154.2 814.5,154.5" fill="none" stroke="#1c1ca6" stroke-width="1.3"/><path d="M753.50 138.61V151.61M755.50 130.14V143.14M758.50 122.85V135.85M761.50 115.95V128.95M764.50 108.56V121.56M766.50 98.59V111.59M769.50 90.17V103.17M772.50 87.33V100.33M775.50 85.54V98.54M778.50 85.02V98.02M780.50 86.14V99.14M783.50 88.55V101.55M786.50 94.89V107.89M789.50 103.54V116.54M791.50 111.86V124.86M794.50 119.30V132.30M797.50 125.49V138.49M800.50 130.84V143.84M802.50 135.58V148.58M805.50 139.41V152.41M808.50 142.68V155.68M811.50 145.51V158.51M814.50 147.71V160.71" stroke="#1c1ca6" stroke-width="1.2" fill="none"/><polyline points="489.0,256.8 489.5,256.8 490.0,256.8 490.5,256.8 491.0,256.8 491.5,256.8 492.0,256.8 492.5,256.8 493.0,256.8 493.5,256.8 494.0,256.8 494.5,256.8 495.0,256.8 495.5,256.8 496.0,256.8 496.5,256.8 497.0,256.8 497.5,256.8 498.0,256.8 498.5,256.8 499.0,256.8 499.5,256.8 500.0,256.8 500.5,256.8 501.0,256.8 501.5,256.8 502.0,256.8 502.5,256.8 503.0,256.8 503.5,256.8 504.0,256.8 504.5,256.8 505.0,256.8 505.5,256.8 506.0,256.8 506.5,256.8 507.0,256.8 507.5,256.8 508.0,256.8 508.5,256.8 509.0,256.8 509.5,256.8 510.0,256.8 510.5,256.8 511.0,256.8 511.5,256.8 512.0,256.8 512.5,256.8 513.0,256.8 513.5,256.8 514.0,256.8 514.5,256.8 515.0,256.8 515.5,256.8 516.0,256.8 516.5,256.8 517.0,256.8 517.5,256.8 518.0,256.8 518.5,256.8 519.0,256.8 519.5,256.8 520.0,256.8 520.5,256.8 521.0,256.8 521.5,256.8 522.0,256.8 522.5,256.8 523.0,256.8 523.5,256.8 524.0,256.8 524.5,256.8 525.0,256.8 525.5,256.8 526.0,256.8 526.5,256.8 527.0,256.8 527.5,256.8 528.0,256.8 528.5,256.8 529.0,256.8 529.5,256.8 530.0,256.8 530.5,256.8 531.0,256.8 531.5,256.8 532.0,256.8 532.5,256.8 533.0,256.8 533.5,256.8 534.0,256.8 534.5,256.8 535.0,256.8 535.5,256.8 536.0,256.8 536.5,256.8 537.0,256.8 537.5,256.8 538.0,256.8 538.5,256.8 539.0,256.8 539.5,256.8 540.0,256.8 540.5,256.8 541.0,256.8 541.5,256.8 542.0,256.8 542.5,256.8 543.0,256.8 543.5,256.8 544.0,256.8 544.5,256.8 545.0,256.8 545.5,256.8 546.0,256.8 546.5,256.8 547.0,256.8 547.5,256.8 548.0,256.8 548.5,256.8 549.0,256.8 549.5,256.8 550.0,256.8 550.5,256.8 551.0,256.8 551.5,256.8 552.0,256.8 552.5,256.8 553.0,256.8 553.5,256.8 554.0,256.8 554.5,256.8 555.0,256.8 555.5,256.8 556.0,256.8 556.5,256.8 557.0,256.8 557.5,256.8 558.0,256.8 558.5,256.8 559.0,256.8 559.5,256.8 560.0,256.8 560.5,256.8 561.0,256.8 561.5,256.8 562.0,256.8 562.5,256.8 563.0,256.8 563.5,256.8 564.0,256.8 564.5,256.8 565.0,256.8 565.5,256.8 566.0,256.8 566.5,256.8 567.0,256.8 567.5,256.8 568.0,256.8 568.5,256.8 569.0,256.8 569.5,256.8 570.0,256.8 570.5,256.8 571.0,256.8 571.5,256.8 572.0,256.8 572.5,256.8 573.0,256.8 573.5,256.8 574.0,256.8 574.5,256.8 575.0,256.8 575.5,256.8 576.0,256.8 576.5,256.8 577.0,256.8 577.5,256.8 578.0,256.8 578.5,256.8 579.0,256.8 579.5,256.8 580.0,256.8 580.5,256.8 581.0,256.8 581.5,256.8 582.0,256.8 582.5,256.8 583.0,256.8 583.5,256.8 584.0,256.8 584.5,256.8 585.0,256.8 585.5,256.8 586.0,256.8 586.5,256.8 587.0,256.8 587.5,256.8 588.0,256.8 588.5,256.8 589.0,256.8 589.5,256.8 590.0,256.8 590.5,256.8 591.0,256.8 591.5,256.8 592.0,256.8 592.5,256.8 593.0,256.8 593.5,256.8 594.0,256.8 594.5,256.8 595.0,256.8 595.5,256.8 596.0,256.8 596.5,256.8 597.0,256.8 597.5,256.8 598.0,256.8 598.5,256.8 599.0,256.8 599.5,256.8 600.0,256.8 600.5,256.8 601.0,256.8 601.5,256.8 602.0,256.8 602.5,256.8 603.0,256.8 603.5,256.8 604.0,256.8 604.5,256.8 605.0,256.8 605.5,256.8 606.0,256.8 606.5,256.8 607.0,256.8 607.5,256.7 608.0,256.7 608.5,256.7 609.0,256.6 609.5,256.5 610.0,256.5 610.5,256.4 611.0,256.3 611.5,256.2 612.0,256.1 612.5,256.0 613.0,255.8 613.5,255.6 614.0,255.3 614.5,255.0 615.0,254.6 615.5,254.2 616.0,253.7 616.5,253.2 617.0,252.7 617.5,252.2 618.0,251.7 618.5,251.2 619.0,250.7 619.5,250.2 620.0,249.7 620.5,249.3 621.0,248.8 621.5,248.4 622.0,248.0 622.5,247.6 623.0,247.1 623.5,246.7 624.0,246.3 624.5,245.8 625.0,245.4 625.5,245.0 626.0,244.5 626.5,244.1 627.0,243.7 627.5,243.3 628.0,242.9 628.5,242.5 629.0,242.2 629.5,241.8 630.0,241.5 630.5,241.1 631.0,240.8 631.5,240.4 632.0,240.1 632.5,239.7 633.0,239.4 633.5,239.1 634.0,238.8 634.5,238.4 635.0,238.1 635.5,237.8 636.0,237.6 636.5,237.3 637.0,237.0 637.5,236.8 638.0,236.5 638.5,236.3 639.0,236.1 639.5,235.9 640.0,235.7 640.5,235.5 641.0,235.3 641.5,235.1 642.0,234.9 642.5,234.8 643.0,234.7 643.5,234.6 644.0,234.5 644.5,234.5 645.0,234.4 645.5,234.4 646.0,234.3 646.5,234.3 647.0,234.3 647.5,234.2 648.0,234.2 648.5,234.2 649.0,234.2 649.5,234.1 650.0,234.1 650.5,234.1 651.0,234.1 651.5,234.1 652.0,234.0 652.5,234.0 653.0,234.0 653.5,234.0 654.0,234.0 654.5,234.0 655.0,234.0 655.5,234.0 656.0,234.0 656.5,234.0 657.0,233.9 657.5,233.9 658.0,233.9 658.5,233.9 659.0,233.9 659.5,233.9 660.0,233.9 660.5,233.9 661.0,233.9 661.5,233.9 662.0,233.8 662.5,233.8 663.0,233.8 663.5,233.8 664.0,233.8 664.5,233.8 665.0,233.7 665.5,233.7 666.0,233.7 666.5,233.7 667.0,233.6 667.5,233.6 668.0,233.6 668.5,233.6 669.0,233.5 669.5,233.5 670.0,233.5 670.5,233.5 671.0,233.5 671.5,233.4 672.0,233.4 672.5,233.4 673.0,233.4 673.5,233.3 674.0,233.3 674.5,233.3 675.0,233.3 675.5,233.3 676.0,233.2 676.5,233.2 677.0,233.2 677.5,233.1 678.0,233.1 678.5,233.0 679.0,233.0 679.5,233.0 680.0,232.9 680.5,232.8 681.0,232.7 681.5,232.5 682.0,232.3 682.5,232.0 683.0,231.7 683.5,231.4 684.0,231.1 684.5,230.7 685.0,230.3 685.5,229.9 686.0,229.4 686.5,229.0 687.0,228.6 687.5,228.1 688.0,227.7 688.5,227.2 689.0,226.8 689.5,226.4 690.0,226.0 690.5,225.6 691.0,225.2 691.5,224.7 692.0,224.2 692.5,223.7 693.0,223.2 693.5,222.7 694.0,222.2 694.5,221.7 695.0,221.2 695.5,220.7 696.0,220.2 696.5,219.7 697.0,219.2 697.5,218.8 698.0,218.4 698.5,218.0 699.0,217.6 699.5,217.3 700.0,217.0 700.5,216.7 701.0,216.5 701.5,216.3 702.0,216.1 702.5,215.9 703.0,215.7 703.5,215.5 704.0,215.3 704.5,215.2 705.0,215.0 705.5,214.9 706.0,214.7 706.5,214.6 707.0,214.5 707.5,214.3 708.0,214.2 708.5,214.0 709.0,213.8 709.5,213.7 710.0,213.5 710.5,213.3 711.0,213.1 711.5,212.8 712.0,212.6 712.5,212.3 713.0,212.0 713.5,211.7 714.0,211.3 714.5,210.8 715.0,210.3 715.5,209.8 716.0,209.2 716.5,208.7 717.0,208.1 717.5,207.5 718.0,207.0 718.5,206.4 719.0,205.9 719.5,205.4 720.0,205.0 720.5,204.6 721.0,204.2 721.5,203.9 722.0,203.6 722.5,203.3 723.0,202.9 723.5,202.7 724.0,202.4 724.5,202.1 725.0,201.8 725.5,201.5 726.0,201.1 726.5,200.8 727.0,200.4 727.5,200.0 728.0,199.6 728.5,199.2 729.0,198.7 729.5,198.2 730.0,197.6 730.5,196.9 731.0,196.3 731.5,195.5 732.0,194.8 732.5,194.0 733.0,193.2 733.5,192.4 734.0,191.5 734.5,190.6 735.0,189.6 735.5,188.6 736.0,187.5 736.5,186.4 737.0,185.2 737.5,184.0 738.0,182.8 738.5,181.6 739.0,180.4 739.5,179.2 740.0,178.0 740.5,176.8 741.0,175.4 741.5,174.0 742.0,172.6 742.5,171.2 743.0,169.7 743.5,168.4 744.0,167.2 744.5,166.0 745.0,165.1 745.5,164.3 746.0,163.8 746.5,163.4 747.0,163.0 747.5,162.7 748.0,162.4 748.5,162.1 749.0,161.9 749.5,161.6 750.0,161.4 750.5,161.1 751.0,160.8 751.5,160.5 752.0,160.1 752.5,159.8 753.0,159.5 753.5,159.1 754.0,158.8 754.5,158.4 755.0,158.0 755.5,157.6 756.0,157.1 756.5,156.6 757.0,156.0 757.5,155.2 758.0,154.2 758.5,152.8 759.0,151.0 759.5,149.1 760.0,146.9 760.5,144.7 761.0,142.5 761.5,140.4 762.0,138.4 762.5,136.3 763.0,134.2 763.5,132.0 764.0,129.7 764.5,127.4 765.0,125.0 765.5,122.5 766.0,119.9 766.5,117.0 767.0,113.7 767.5,110.3 768.0,106.8 768.5,103.5 769.0,100.3 769.5,97.5 770.0,95.1 770.5,93.3 771.0,91.7 771.5,90.0 772.0,88.4 772.5,86.9 773.0,85.4 773.5,84.1 774.0,82.9 774.5,81.8 775.0,80.9 775.5,80.2 776.0,79.7 776.5,79.4 777.0,79.4 777.5,79.7 778.0,80.1 778.5,80.8 779.0,81.6 779.5,82.6 780.0,83.8 780.5,85.0 781.0,86.3 781.5,87.7 782.0,89.0 782.5,90.4 783.0,91.8 783.5,93.1 784.0,94.5 784.5,95.9 785.0,97.5 785.5,99.2 786.0,101.1 786.5,103.1 787.0,105.3 787.5,107.9 788.0,111.3 788.5,115.5 789.0,119.9 789.5,124.2 790.0,128.0 790.5,131.4 791.0,134.7 791.5,137.9 792.0,141.0 792.5,144.0 793.0,146.9 793.5,149.8 794.0,152.6 794.5,155.3 795.0,158.0 795.5,160.6 796.0,163.1 796.5,165.5 797.0,167.8 797.5,170.1 798.0,172.4 798.5,174.7 799.0,177.1 799.5,179.5 800.0,182.0 800.5,184.6 801.0,187.3 801.5,190.1 802.0,193.0 802.5,195.9 803.0,198.8 803.5,201.7 804.0,204.5 804.5,207.3 805.0,210.0 805.5,212.5 806.0,215.0 806.5,217.3 807.0,219.6 807.5,221.7 808.0,223.8 808.5,225.9 809.0,227.9 809.5,230.0 810.0,232.0 810.5,234.1 811.0,236.1 811.5,238.1 812.0,240.1 812.5,242.1 813.0,244.1 813.5,246.1 814.0,248.1 814.5,250.0" fill="none" stroke="#ff1a1a" stroke-width="1.3"/><path d="M606.50 256.80V256.80M609.50 256.47V256.70M611.50 255.74V256.49M614.50 253.87V255.95M617.50 249.94V254.81M620.50 245.61V253.55M622.50 241.92V252.48M625.50 239.30V250.30M628.50 237.06V248.06M631.50 235.11V246.11M633.50 233.26V244.26M636.50 231.64V242.64M639.50 230.37V241.37M642.50 229.35V240.35M645.50 228.90V239.90M647.50 228.71V239.71M650.50 228.59V239.59M653.50 228.51V239.51M656.50 228.46V239.46M658.50 228.42V239.42M661.50 228.36V239.36M664.50 228.26V239.26M667.50 228.13V239.13M669.50 228.00V239.00M672.50 227.88V238.88M675.50 227.75V238.75M678.50 227.56V238.56M681.50 227.16V238.16M683.50 225.67V236.67M686.50 223.41V234.41M689.50 220.99V231.99M692.50 218.58V229.58M694.50 215.77V226.77M697.50 213.13V224.13M700.50 211.25V222.25M703.50 210.10V221.10M706.50 209.24V220.24M708.50 208.40V219.40M711.50 207.30V218.30M714.50 205.46V216.46M717.50 202.48V213.48M719.50 199.62V210.62M722.50 197.67V208.67M725.50 196.01V207.01M728.50 193.99V204.99M730.50 190.85V201.85M733.50 186.50V197.50M736.50 180.91V191.91M739.50 174.28V185.28M742.50 166.76V178.33M744.50 159.30V171.64M747.50 156.07V169.19M750.50 154.24V168.13M753.50 152.06V166.72M755.50 149.52V164.96M758.50 144.21V160.43M761.50 132.28V149.28M764.50 120.01V137.78M766.50 104.99V123.14M769.50 87.19V105.56M772.50 77.61V96.21M775.50 71.12V89.94M778.50 70.62V89.67M780.50 76.13V95.39M783.50 83.54V103.03M786.50 92.57V112.27M789.50 110.87V130.80M791.50 127.54V152.91M794.50 139.48V172.77M797.50 149.30V190.24M800.50 159.44V206.53M802.50 171.92V225.16M805.50 189.99V237.40M808.50 208.87V242.88M811.50 226.41V247.98M814.50 243.49V252.94" stroke="#ff1a1a" stroke-width="1.2" fill="none"/><polyline points="489.0,256.8 489.5,256.8 490.0,256.8 490.5,256.8 491.0,256.8 491.5,256.8 492.0,256.8 492.5,256.8 493.0,256.8 493.5,256.8 494.0,256.8 494.5,256.8 495.0,256.8 495.5,256.8 496.0,256.8 496.5,256.8 497.0,256.8 497.5,256.8 498.0,256.8 498.5,256.8 499.0,256.8 499.5,256.8 500.0,256.8 500.5,256.8 501.0,256.8 501.5,256.8 502.0,256.8 502.5,256.8 503.0,256.8 503.5,256.8 504.0,256.8 504.5,256.8 505.0,256.8 505.5,256.8 506.0,256.8 506.5,256.8 507.0,256.8 507.5,256.8 508.0,256.8 508.5,256.8 509.0,256.8 509.5,256.8 510.0,256.8 510.5,256.8 511.0,256.8 511.5,256.8 512.0,256.8 512.5,256.8 513.0,256.8 513.5,256.8 514.0,256.8 514.5,256.8 515.0,256.8 515.5,256.8 516.0,256.8 516.5,256.8 517.0,256.8 517.5,256.8 518.0,256.8 518.5,256.8 519.0,256.8 519.5,256.8 520.0,256.8 520.5,256.8 521.0,256.8 521.5,256.8 522.0,256.8 522.5,256.8 523.0,256.8 523.5,256.8 524.0,256.8 524.5,256.8 525.0,256.8 525.5,256.8 526.0,256.8 526.5,256.8 527.0,256.8 527.5,256.8 528.0,256.8 528.5,256.8 529.0,256.8 529.5,256.8 530.0,256.8 530.5,256.8 531.0,256.8 531.5,256.8 532.0,256.8 532.5,256.8 533.0,256.8 533.5,256.8 534.0,256.8 534.5,256.8 535.0,256.8 535.5,256.8 536.0,256.8 536.5,256.8 537.0,256.8 537.5,256.8 538.0,256.8 538.5,256.8 539.0,256.8 539.5,256.8 540.0,256.8 540.5,256.8 541.0,256.8 541.5,256.8 542.0,256.8 542.5,256.8 543.0,256.8 543.5,256.8 544.0,256.8 544.5,256.8 545.0,256.8 545.5,256.8 546.0,256.8 546.5,256.8 547.0,256.8 547.5,256.8 548.0,256.8 548.5,256.8 549.0,256.8 549.5,256.8 550.0,256.8 550.5,256.8 551.0,256.8 551.5,256.8 552.0,256.8 552.5,256.8 553.0,256.8 553.5,256.8 554.0,256.8 554.5,256.8 555.0,256.8 555.5,256.8 556.0,256.8 556.5,256.8 557.0,256.8 557.5,256.8 558.0,256.8 558.5,256.8 559.0,256.8 559.5,256.8 560.0,256.8 560.5,256.8 561.0,256.8 561.5,256.8 562.0,256.8 562.5,256.8 563.0,256.8 563.5,256.8 564.0,256.8 564.5,256.8 565.0,256.8 565.5,256.8 566.0,256.8 566.5,256.8 567.0,256.8 567.5,256.8 568.0,256.8 568.5,256.8 569.0,256.8 569.5,256.8 570.0,256.8 570.5,256.8 571.0,256.8 571.5,256.8 572.0,256.8 572.5,256.8 573.0,256.8 573.5,256.8 574.0,256.8 574.5,256.8 575.0,256.8 575.5,256.8 576.0,256.8 576.5,256.8 577.0,256.8 577.5,256.8 578.0,256.8 578.5,256.8 579.0,256.8 579.5,256.8 580.0,256.8 580.5,256.8 581.0,256.8 581.5,256.8 582.0,256.8 582.5,256.8 583.0,256.8 583.5,256.8 584.0,256.8 584.5,256.8 585.0,256.8 585.5,256.8 586.0,256.8 586.5,256.8 587.0,256.8 587.5,256.8 588.0,256.8 588.5,256.8 589.0,256.8 589.5,256.8 590.0,256.8 590.5,256.8 591.0,256.8 591.5,256.8 592.0,256.8 592.5,256.8 593.0,256.8 593.5,256.8 594.0,256.8 594.5,256.8 595.0,256.8 595.5,256.8 596.0,256.8 596.5,256.8 597.0,256.8 597.5,256.8 598.0,256.8 598.5,256.8 599.0,256.8 599.5,256.8 600.0,256.8 600.5,256.8 601.0,256.8 601.5,256.8 602.0,256.8 602.5,256.8 603.0,256.8 603.5,256.8 604.0,256.8 604.5,256.8 605.0,256.8 605.5,256.8 606.0,256.8 606.5,256.8 607.0,256.8 607.5,256.7 608.0,256.7 608.5,256.6 609.0,256.5 609.5,256.5 610.0,256.4 610.5,256.3 611.0,256.2 611.5,256.1 612.0,256.0 612.5,255.9 613.0,255.8 613.5,255.6 614.0,255.5 614.5,255.3 615.0,255.2 615.5,255.0 616.0,254.8 616.5,254.6 617.0,254.4 617.5,254.2 618.0,254.0 618.5,253.7 619.0,253.5 619.5,253.2 620.0,253.0 620.5,252.7 621.0,252.5 621.5,252.2 622.0,251.9 622.5,251.7 623.0,251.4 623.5,251.1 624.0,250.9 624.5,250.6 625.0,250.3 625.5,250.1 626.0,249.8 626.5,249.5 627.0,249.2 627.5,248.9 628.0,248.5 628.5,248.2 629.0,247.9 629.5,247.5 630.0,247.2 630.5,246.8 631.0,246.5 631.5,246.1 632.0,245.8 632.5,245.4 633.0,245.1 633.5,244.8 634.0,244.4 634.5,244.1 635.0,243.8 635.5,243.5 636.0,243.2 636.5,242.9 637.0,242.6 637.5,242.3 638.0,242.0 638.5,241.7 639.0,241.5 639.5,241.2 640.0,240.9 640.5,240.6 641.0,240.3 641.5,240.1 642.0,239.8 642.5,239.6 643.0,239.3 643.5,239.1 644.0,238.9 644.5,238.7 645.0,238.5 645.5,238.3 646.0,238.1 646.5,237.9 647.0,237.7 647.5,237.5 648.0,237.3 648.5,237.2 649.0,237.0 649.5,236.8 650.0,236.7 650.5,236.5 651.0,236.3 651.5,236.2 652.0,236.0 652.5,235.9 653.0,235.7 653.5,235.6 654.0,235.4 654.5,235.3 655.0,235.1 655.5,235.0 656.0,234.8 656.5,234.7 657.0,234.5 657.5,234.4 658.0,234.2 658.5,234.1 659.0,234.0 659.5,233.9 660.0,233.8 660.5,233.7 661.0,233.6 661.5,233.6 662.0,233.5 662.5,233.4 663.0,233.4 663.5,233.3 664.0,233.2 664.5,233.2 665.0,233.1 665.5,233.1 666.0,233.0 666.5,233.0 667.0,232.9 667.5,232.8 668.0,232.8 668.5,232.7 669.0,232.6 669.5,232.6 670.0,232.5 670.5,232.4 671.0,232.3 671.5,232.3 672.0,232.2 672.5,232.1 673.0,232.0 673.5,232.0 674.0,231.9 674.5,231.8 675.0,231.7 675.5,231.6 676.0,231.5 676.5,231.4 677.0,231.3 677.5,231.2 678.0,231.1 678.5,230.9 679.0,230.8 679.5,230.7 680.0,230.5 680.5,230.3 681.0,230.1 681.5,229.8 682.0,229.5 682.5,229.1 683.0,228.7 683.5,228.3 684.0,227.8 684.5,227.3 685.0,226.8 685.5,226.3 686.0,225.7 686.5,225.2 687.0,224.7 687.5,224.1 688.0,223.6 688.5,223.0 689.0,222.5 689.5,222.0 690.0,221.5 690.5,221.0 691.0,220.5 691.5,220.0 692.0,219.4 692.5,218.9 693.0,218.3 693.5,217.8 694.0,217.2 694.5,216.7 695.0,216.1 695.5,215.5 696.0,215.0 696.5,214.4 697.0,213.9 697.5,213.4 698.0,212.9 698.5,212.4 699.0,211.9 699.5,211.4 700.0,211.0 700.5,210.6 701.0,210.2 701.5,209.8 702.0,209.4 702.5,209.1 703.0,208.7 703.5,208.4 704.0,208.1 704.5,207.7 705.0,207.4 705.5,207.1 706.0,206.8 706.5,206.4 707.0,206.1 707.5,205.8 708.0,205.4 708.5,205.1 709.0,204.7 709.5,204.4 710.0,204.0 710.5,203.6 711.0,203.2 711.5,202.9 712.0,202.5 712.5,202.1 713.0,201.7 713.5,201.3 714.0,201.0 714.5,200.6 715.0,200.2 715.5,199.8 716.0,199.3 716.5,198.9 717.0,198.5 717.5,198.0 718.0,197.5 718.5,197.1 719.0,196.6 719.5,196.0 720.0,195.5 720.5,194.9 721.0,194.4 721.5,193.8 722.0,193.1 722.5,192.5 723.0,191.8 723.5,191.2 724.0,190.4 724.5,189.7 725.0,189.0 725.5,188.2 726.0,187.4 726.5,186.5 727.0,185.7 727.5,184.8 728.0,183.9 728.5,183.0 729.0,182.0 729.5,181.0 730.0,180.0 730.5,178.9 731.0,177.6 731.5,176.3 732.0,174.8 732.5,173.3 733.0,171.8 733.5,170.3 734.0,168.8 734.5,167.3 735.0,166.0 735.5,164.7 736.0,163.3 736.5,161.9 737.0,160.5 737.5,159.2 738.0,157.9 738.5,156.7 739.0,155.6 739.5,154.7 740.0,154.0 740.5,153.4 741.0,152.8 741.5,152.1 742.0,151.6 742.5,151.0 743.0,150.5 743.5,150.0 744.0,149.5 744.5,149.1 745.0,148.8 745.5,148.5 746.0,148.3 746.5,148.1 747.0,148.0 747.5,148.0 748.0,148.1 748.5,148.2 749.0,148.4 749.5,148.7 750.0,149.0 750.5,149.3 751.0,149.6 751.5,150.0 752.0,150.4 752.5,150.8 753.0,151.1 753.5,151.5 754.0,151.8 754.5,152.1 755.0,152.4 755.5,152.7 756.0,153.0 756.5,153.3 757.0,153.6 757.5,153.7 758.0,153.7 758.5,153.5 759.0,153.2 759.5,152.8 760.0,152.2 760.5,151.6 761.0,150.9 761.5,150.1 762.0,149.2 762.5,148.3 763.0,147.4 763.5,146.5 764.0,145.5 764.5,144.6 765.0,143.7 765.5,142.9 766.0,142.1 766.5,141.2 767.0,140.2 767.5,139.1 768.0,137.9 768.5,136.8 769.0,135.6 769.5,134.4 770.0,133.2 770.5,132.1 771.0,131.1 771.5,130.2 772.0,129.4 772.5,128.7 773.0,128.3 773.5,128.0 774.0,127.9 774.5,127.9 775.0,128.0 775.5,128.1 776.0,128.3 776.5,128.4 777.0,128.6 777.5,128.8 778.0,129.0 778.5,129.4 779.0,130.0 779.5,130.7 780.0,131.5 780.5,132.5 781.0,133.5 781.5,134.6 782.0,135.7 782.5,136.9 783.0,138.0 783.5,139.1 784.0,140.1 784.5,141.3 785.0,142.4 785.5,143.7 786.0,144.9 786.5,146.2 787.0,147.5 787.5,148.8 788.0,150.1 788.5,151.4 789.0,152.7 789.5,153.9 790.0,155.0 790.5,156.1 791.0,157.2 791.5,158.3 792.0,159.4 792.5,160.5 793.0,161.5 793.5,162.6 794.0,163.7 794.5,164.7 795.0,165.7 795.5,166.7 796.0,167.7 796.5,168.7 797.0,169.7 797.5,170.6 798.0,171.5 798.5,172.4 799.0,173.3 799.5,174.2 800.0,175.0 800.5,175.8 801.0,176.6 801.5,177.4 802.0,178.3 802.5,179.0 803.0,179.8 803.5,180.6 804.0,181.4 804.5,182.1 805.0,182.9 805.5,183.6 806.0,184.4 806.5,185.1 807.0,185.8 807.5,186.5 808.0,187.2 808.5,187.9 809.0,188.5 809.5,189.2 810.0,189.8 810.5,190.5 811.0,191.1 811.5,191.7 812.0,192.3 812.5,192.9 813.0,193.4 813.5,194.0 814.0,194.5 814.5,195.0" fill="none" stroke="#1e781e" stroke-width="1.3"/><path d="M606.50 256.80V256.80M609.50 256.39V256.68M611.50 255.61V256.45M614.50 254.50V256.13M617.50 252.84V255.65M620.50 250.79V255.05M622.50 248.52V254.40M625.50 246.19V253.72M628.50 243.54V252.95M631.50 241.19V251.43M633.50 239.05V249.85M636.50 237.10V248.45M639.50 235.20V247.11M642.50 233.45V245.91M645.50 231.95V244.96M647.50 230.75V244.05M650.50 229.66V243.26M653.50 228.65V242.54M656.50 227.66V241.85M658.50 226.78V241.26M661.50 226.22V240.84M664.50 225.86V240.50M667.50 225.54V240.21M669.50 225.15V239.85M672.50 224.71V239.44M675.50 224.24V238.99M678.50 223.61V238.39M681.50 222.62V237.43M683.50 220.51V235.35M686.50 217.64V232.51M689.50 214.66V229.55M692.50 211.80V226.72M694.50 208.69V223.64M697.50 205.67V220.65M700.50 203.10V218.12M703.50 201.01V216.13M706.50 199.15V214.36M708.50 197.24V212.56M711.50 195.12V210.53M714.50 192.95V208.46M717.50 190.58V206.19M719.50 187.80V203.51M722.50 184.43V200.23M725.50 180.38V196.29M728.50 175.47V191.70M730.50 167.83V187.75M733.50 157.83V181.45M736.50 148.31V175.62M739.50 139.67V170.67M742.50 135.54V167.54M744.50 132.92V164.92M747.50 132.01V164.01M750.50 133.18V165.18M753.50 135.22V167.22M755.50 136.97V168.97M758.50 139.28V167.58M761.50 137.99V162.42M764.50 134.93V155.47M766.50 131.28V149.28M769.50 124.86V142.86M772.50 119.75V137.75M775.50 119.06V137.06M778.50 120.07V138.07M780.50 124.07V142.07M783.50 129.29V149.17M786.50 134.21V157.41M789.50 139.66V166.19M791.50 144.21V174.07M794.50 148.15V181.86M797.50 151.65V189.24M800.50 154.58V196.05M802.50 157.53V202.01M805.50 161.04V206.91M808.50 164.25V211.50M811.50 167.10V215.73M814.50 169.53V219.53" stroke="#1e781e" stroke-width="1.2" fill="none"/>
<path d="M490 256.8H600" stroke="#1e601e" stroke-width="2.2"/>
<text transform="translate(481.2 46.2) scale(1 1.06)" font-family="Liberation Sans, sans-serif" font-size="15.8" font-weight="bold" text-anchor="end">5.0</text>
<text transform="translate(481.2 154.6) scale(1 1.06)" font-family="Liberation Sans, sans-serif" font-size="15.8" font-weight="bold" text-anchor="end">2.5</text>
<text transform="translate(481.2 262.4) scale(1 1.06)" font-family="Liberation Sans, sans-serif" font-size="15.8" font-weight="bold" text-anchor="end">0.0</text>
<text transform="translate(600.75 279.6) scale(1 1.12)" font-family="Liberation Sans, sans-serif" font-size="15.5" text-anchor="middle">1</text>
<text transform="translate(661.0 279.6) scale(1 1.12)" font-family="Liberation Sans, sans-serif" font-size="15.5" text-anchor="middle">10</text>
<text transform="translate(725.3 279.6) scale(1 1.12)" font-family="Liberation Sans, sans-serif" font-size="15.5" text-anchor="middle">100</text>
<text transform="translate(789.7 279.6) scale(1 1.12)" font-family="Liberation Sans, sans-serif" font-size="15.5" text-anchor="middle">1000</text>
<text x="484.4" y="17.4" font-family="Liberation Sans, sans-serif" font-size="22.5" font-weight="bold" textLength="31.2" lengthAdjust="spacingAndGlyphs">6.b</text>
<text transform="translate(445.2 197.5) rotate(-90)" font-family="Liberation Sans, sans-serif" font-size="17.5" font-weight="bold" textLength="95.4" lengthAdjust="spacingAndGlyphs">Volume (%)</text>
<text x="534.5" y="303.6" font-family="Liberation Sans, sans-serif" font-size="17.5" font-weight="bold">Particle diameter (D<tspan font-size="11.6" dx="1.2" letter-spacing="1.9">4,3</tspan><tspan dx="-1.2">)</tspan><tspan dx="1.5"> (μm)</tspan></text>
<path d="M495.9 50.5H519.7" stroke="#4646a0" stroke-width="1.3"/>
<text x="531.8" y="54.5" font-family="Liberation Sans, sans-serif" font-size="12"><tspan font-weight="bold">GI</tspan> (w /e)</text>
<text x="531.8" y="70.0" font-family="Liberation Sans, sans-serif" font-size="12" textLength="126.1" lengthAdjust="spacingAndGlyphs">D<tspan font-size="8.2" dy="2.6">4,3</tspan><tspan dy="-2.6" dx="1.5">= 586.00&#160;&#160;± 2.00 μm</tspan><tspan font-size="10.5" dy="-2.6"></tspan></text>
<text x="531.5" y="86.1" font-family="Liberation Sans, sans-serif" font-size="12" textLength="167.0" lengthAdjust="spacingAndGlyphs">Vol. (1 - 100 μm) = 13.91 ± 0.26<tspan font-size="10.5" dy="-2.6"></tspan></text>
<path d="M495.9 105.1H519.7" stroke="#ff3c3c" stroke-width="1.3"/>
<text x="531.8" y="108.7" font-family="Liberation Sans, sans-serif" font-size="12"><tspan font-weight="bold">GI</tspan> (trypsin)</text>
<text x="531.8" y="124.0" font-family="Liberation Sans, sans-serif" font-size="12" textLength="133.7" lengthAdjust="spacingAndGlyphs">D<tspan font-size="8.2" dy="2.6">4,3</tspan><tspan dy="-2.6" dx="1.5">= 406.40 ± 3.04 μm</tspan><tspan font-size="10.5" dy="-2.6">***</tspan></text>
<text x="531.5" y="140.3" font-family="Liberation Sans, sans-serif" font-size="12" textLength="177.4" lengthAdjust="spacingAndGlyphs">Vol. (1 - 100 μm) = 27.34 ± 0.43<tspan font-size="10.5" dy="-2.6">***</tspan></text>
<path d="M495.9 158.2H519.7" stroke="#2a802a" stroke-width="1.3"/>
<text x="531.8" y="162.4" font-family="Liberation Sans, sans-serif" font-size="12"><tspan font-weight="bold">GI</tspan> (pancreatin)</text>
<text x="531.8" y="177.8" font-family="Liberation Sans, sans-serif" font-size="12" textLength="131.9" lengthAdjust="spacingAndGlyphs">D<tspan font-size="8.2" dy="2.6">4,3</tspan><tspan dy="-2.6" dx="0">= 429.70 ± 3.85 μm</tspan><tspan font-size="10.5" dy="-2.6">***</tspan></text>
<text x="531.5" y="194.4" font-family="Liberation Sans, sans-serif" font-size="12" textLength="177.2" lengthAdjust="spacingAndGlyphs">Vol. (1 - 100 μm) = 23.86 ± 1.13<tspan font-size="10.5" dy="-2.6">***</tspan></text></svg></body></html>
